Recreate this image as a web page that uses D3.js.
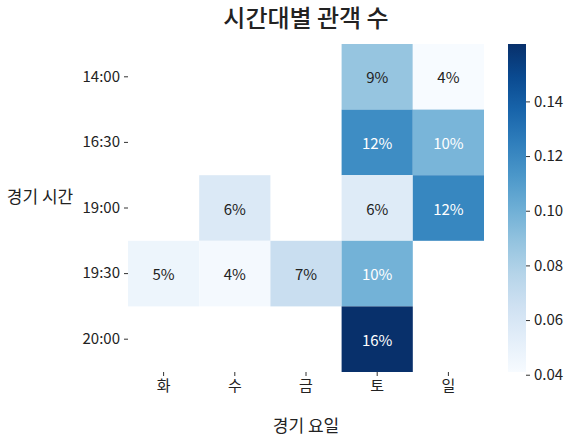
<!DOCTYPE html>
<html>
<head>
<meta charset="utf-8">
<script src="https://cdn.jsdelivr.net/npm/d3@7"></script>
<style>
  body { margin: 0; background: #fff; }
  text { font-family: "Noto Sans CJK KR", "Noto Sans", sans-serif; fill: #222; }
</style>
</head>
<body>
<svg id="chart" width="568" height="442"></svg>
<script>
// data
const days = ['화', '수', '금', '토', '일'];
const times = ['14:00', '16:30', '19:00', '19:30', '20:00'];
const cells = [
  { time: '14:00', day: '토', value: 0.088 },
  { time: '14:00', day: '일', value: 0.041 },
  { time: '16:30', day: '토', value: 0.118 },
  { time: '16:30', day: '일', value: 0.097 },
  { time: '19:00', day: '수', value: 0.058 },
  { time: '19:00', day: '토', value: 0.056 },
  { time: '19:00', day: '일', value: 0.121 },
  { time: '19:30', day: '화', value: 0.047 },
  { time: '19:30', day: '수', value: 0.043 },
  { time: '19:30', day: '금', value: 0.068 },
  { time: '19:30', day: '토', value: 0.099 },
  { time: '20:00', day: '토', value: 0.161 }
];
const barTicks = [0.04, 0.06, 0.08, 0.10, 0.12, 0.14];

const svg = d3.select('#chart');
const mLeft = 128, mRight = 484, mTop = 44, mBottom = 372;

const x = d3.scaleBand().domain(days).range([mLeft, mRight]);
const y = d3.scaleBand().domain(times).range([mTop, mBottom]);
const vmin = d3.min(cells, d => d.value), vmax = d3.max(cells, d => d.value);
const color = d3.scaleSequential(d3.interpolateBlues).domain([vmin, vmax]);

svg.append('g').selectAll('rect')
  .data(cells).join('rect')
  .attr('x', d => x(d.day)).attr('y', d => y(d.time))
  .attr('width', x.bandwidth()).attr('height', y.bandwidth())
  .attr('fill', d => color(d.value));

svg.append('g').selectAll('text')
  .data(cells).join('text')
  .attr('x', d => x(d.day) + x.bandwidth() / 2)
  .attr('y', d => y(d.time) + y.bandwidth() / 2)
  .attr('text-anchor', 'middle').attr('dominant-baseline', 'central')
  .style('font-size', '15px')
  .style('fill', d => d.value > 0.095 ? '#fff' : '#222')
  .text(d => Math.round(d.value * 100) + '%');

const xAxis = svg.append('g').attr('transform', `translate(0,${mBottom})`)
  .call(d3.axisBottom(x).tickSize(4).tickPadding(4));
const yAxis = svg.append('g').attr('transform', `translate(${mLeft},0)`)
  .call(d3.axisLeft(y).tickSize(4).tickPadding(4));
[xAxis, yAxis].forEach(a => {
  a.select('.domain').remove();
  a.selectAll('line').attr('stroke', '#333');
  a.selectAll('text').style('font-size', '15px').style('fill', '#222')
    .style('font-family', '"Noto Sans CJK KR", sans-serif');
});

// colour bar
const cbX = 508, cbW = 18;
const cy = d3.scaleLinear().domain([vmin, vmax]).range([mBottom, mTop]);
const defs = svg.append('defs');
const grad = defs.append('linearGradient').attr('id', 'cb')
  .attr('x1', 0).attr('y1', 1).attr('x2', 0).attr('y2', 0);
d3.range(0, 1.01, 0.1).forEach(t =>
  grad.append('stop').attr('offset', t).attr('stop-color', d3.interpolateBlues(t)));
svg.append('rect').attr('x', cbX).attr('y', mTop).attr('width', cbW)
  .attr('height', mBottom - mTop).attr('fill', 'url(#cb)');
const cAxis = svg.append('g').attr('transform', `translate(${cbX + cbW},0)`)
  .call(d3.axisRight(cy).tickValues(barTicks).tickFormat(d3.format('.2f')).tickSize(4).tickPadding(4));
cAxis.select('.domain').remove();
cAxis.selectAll('line').attr('stroke', '#333');
cAxis.selectAll('text').style('font-size', '15px').style('fill', '#222')
  .style('font-family', '"Noto Sans CJK KR", sans-serif');

svg.append('text').attr('x', 306).attr('y', 27).attr('text-anchor', 'middle')
  .style('font-size', '24px').style('font-weight', '500').text('시간대별 관객 수');
svg.append('text').attr('x', 306).attr('y', 432).attr('text-anchor', 'middle')
  .style('font-size', '17px').text('경기 요일');
svg.append('text').attr('x', 40).attr('y', 203).attr('text-anchor', 'middle')
  .style('font-size', '17px').text('경기 시간');
</script>
</body>
</html>
